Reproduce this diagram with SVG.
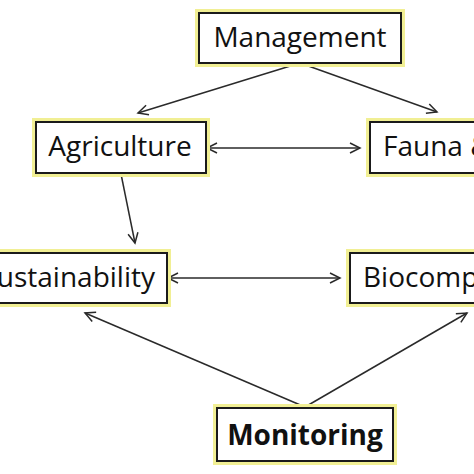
<svg xmlns="http://www.w3.org/2000/svg" width="474" height="474" viewBox="0 0 474 474">
<style>
.glow{fill:#ffffff;stroke:#f1ef94;stroke-width:8}
.box{fill:#ffffff;stroke:#1a1a1a;stroke-width:2}
.lbl{font-family:"Open Sans","Liberation Sans",sans-serif;font-size:28px;fill:#111111}
.bold{font-weight:bold}
.conn{stroke:#2a2a2a;stroke-width:1.5;fill:none}
</style>
<defs>
<marker id="ah" markerWidth="14" markerHeight="14" refX="11" refY="6" orient="auto-start-reverse" markerUnits="userSpaceOnUse" viewBox="0 0 14 12">
<path d="M1,1 L11,6 L1,11" fill="none" stroke="#2a2a2a" stroke-width="1.5"/>
</marker>
</defs>
<rect width="474" height="474" fill="#ffffff"/>
<g id="connectors">
<line class="conn" x1="300" y1="63" x2="138" y2="113" marker-end="url(#ah)"/>
<line class="conn" x1="300" y1="63" x2="437" y2="112" marker-end="url(#ah)"/>
<line class="conn" x1="207" y1="148" x2="360" y2="148" marker-start="url(#ah)" marker-end="url(#ah)"/>
<line class="conn" x1="121" y1="174" x2="135" y2="243" marker-end="url(#ah)"/>
<line class="conn" x1="168" y1="278" x2="340" y2="278" marker-start="url(#ah)" marker-end="url(#ah)"/>
<line class="conn" x1="305" y1="407" x2="85" y2="313" marker-end="url(#ah)"/>
<line class="conn" x1="305" y1="407" x2="467" y2="313" marker-end="url(#ah)"/>
</g>
<g id="management">
<rect class="glow" x="199" y="13" width="202" height="50"/>
<rect class="box" x="199" y="13" width="202" height="50"/>
<text class="lbl" x="300" y="47" text-anchor="middle">Management</text>
</g>
<g id="agriculture">
<rect class="glow" x="36" y="122" width="170" height="51"/>
<rect class="box" x="36" y="122" width="170" height="51"/>
<text class="lbl" x="120" y="156" text-anchor="middle">Agriculture</text>
</g>
<g id="fauna">
<rect class="glow" x="370" y="122" width="160" height="51"/>
<rect class="box" x="370" y="122" width="160" height="51"/>
<text class="lbl" x="383" y="156">Fauna &amp;</text>
</g>
<g id="sustainability">
<rect class="glow" x="-60" y="253" width="227" height="50"/>
<rect class="box" x="-60" y="253" width="227" height="50"/>
<text class="lbl" x="155" y="287" text-anchor="end">ustainability</text>
</g>
<g id="biocomp">
<rect class="glow" x="350" y="253" width="160" height="50"/>
<rect class="box" x="350" y="253" width="160" height="50"/>
<text class="lbl" x="363" y="287">Biocomp</text>
</g>
<g id="monitoring">
<rect class="glow" x="217" y="408" width="176" height="53"/>
<rect class="box" x="217" y="408" width="176" height="53"/>
<text class="lbl bold" x="305" y="445" text-anchor="middle" font-size="26.5">Monitoring</text>
</g>
</svg>
